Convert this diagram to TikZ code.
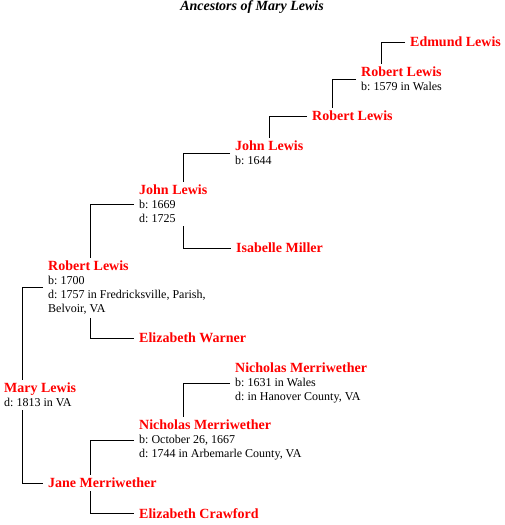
\documentclass[tikz,border=0pt]{standalone}
\usepackage{fontspec}
\setmainfont{Liberation Serif}
\frenchspacing
\newcommand*{\persname}[1]{{\fontsize{14}{14}\selectfont\bfseries\color{myname}#1}}
\begin{document}
\begin{tikzpicture}[x=1pt,y=-1pt,
    person/.style={anchor=north west, align=left, inner xsep=5pt, inner ysep=3pt,
        font=\fontsize{12}{14}\selectfont\frenchspacing},
    link/.style={line width=1pt}]
    \definecolor{myname}{RGB}{255,0,0}
    \useasboundingbox (0,0) rectangle (504,525);

    \node[font=\fontsize{14}{16}\selectfont\bfseries\itshape] (title) at (252,7) {Ancestors of Mary Lewis};

    \node[person] (el)  at (405,34)  {\persname{Edmund Lewis}};
    \node[person] (rl5) at (356,64)  {\persname{Robert Lewis}\\ b: 1579 in Wales};
    \node[person] (rl4) at (307,108) {\persname{Robert Lewis}};
    \node[person] (jl3) at (230,138) {\persname{John Lewis}\\ b: 1644};
    \node[person] (jl2) at (134,182) {\persname{John Lewis}\\ b: 1669\\ d: 1725};
    \node[person] (im)  at (231,240) {\persname{Isabelle Miller}};
    \node[person] (rl1) at (43,258)  {\persname{Robert Lewis}\\ b: 1700\\ d: 1757 in Fredricksville, Parish,\\ Belvoir, VA};
    \node[person] (ew)  at (134,330) {\persname{Elizabeth Warner}};
    \node[person] (nm3) at (230,360) {\persname{Nicholas Merriwether}\\ b: 1631 in Wales\\ d: in Hanover County, VA};
    \node[person] (ml)  at (-1,380)  {\persname{Mary Lewis}\\ d: 1813 in VA};
    \node[person] (nm2) at (134,417) {\persname{Nicholas Merriwether}\\ b: October 26, 1667\\ d: 1744 in Arbemarle County, VA};
    \node[person] (jm)  at (43,475)  {\persname{Jane Merriwether}};
    \node[person] (ec)  at (134,505) {\persname{Elizabeth Crawford}};

    \draw[link] (el.west) -| ([xshift=25pt]rl5.north west);
    \draw[link] (rl5.west) -| ([xshift=25pt]rl4.north west);
    \draw[link] (rl4.west) -| ([xshift=39pt]jl3.north west);
    \draw[link] (jl3.west) -| ([xshift=49pt]jl2.north west);
    \draw[link] ([xshift=49pt]jl2.south west) |- (im.west);
    \draw[link] (jl2.west) -| ([xshift=47pt]rl1.north west);
    \draw[link] ([xshift=47pt]rl1.south west) |- (ew.west);
    \draw[link] (rl1.west) -| ([xshift=23pt]ml.north west);
    \draw[link] ([xshift=23pt]ml.south west) |- (jm.west);
    \draw[link] (nm3.west) -| ([xshift=49pt]nm2.north west);
    \draw[link] (nm2.west) -| ([xshift=47pt]jm.north west);
    \draw[link] ([xshift=47pt]jm.south west) |- (ec.west);
\end{tikzpicture}
\end{document}
